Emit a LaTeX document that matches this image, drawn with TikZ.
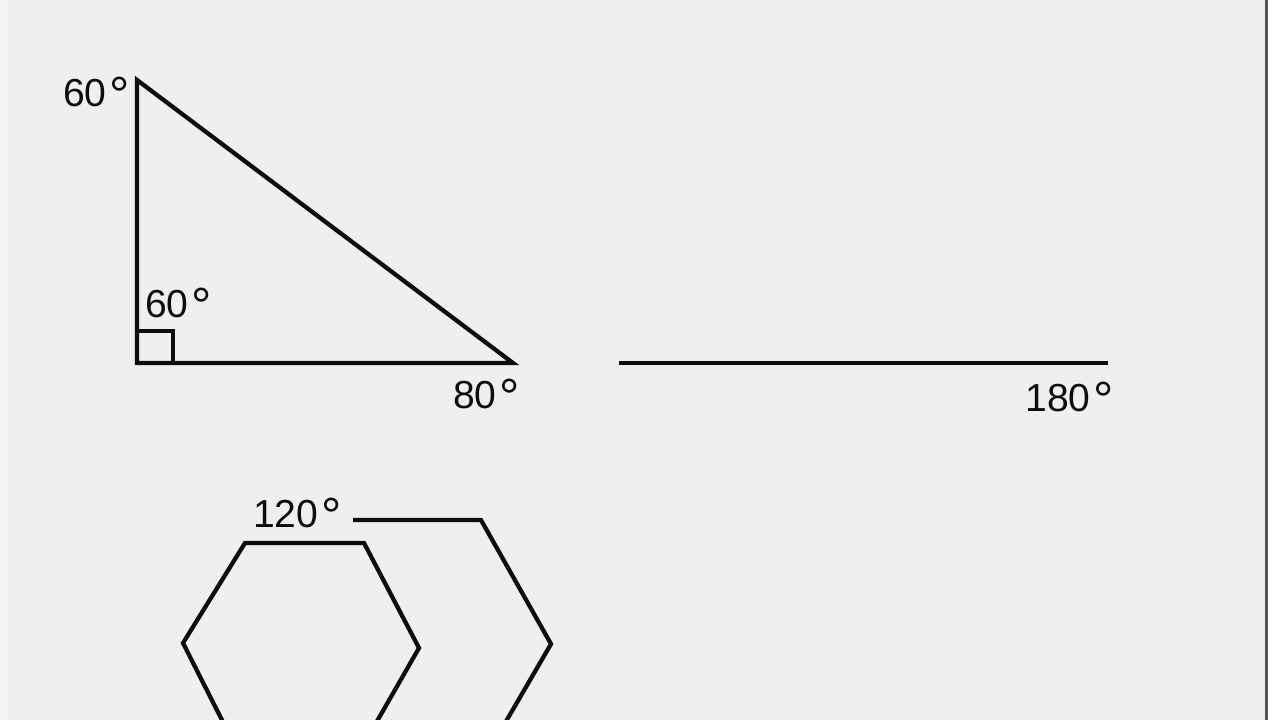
\documentclass[tikz,border=0pt]{standalone}
\usepackage{fontspec}
\usepackage{graphicx}
\setmainfont{Liberation Sans}
\definecolor{bgc}{HTML}{EFEFEF}
\definecolor{stripc}{HTML}{F3F3F3}
\definecolor{edgec}{HTML}{555555}
\definecolor{inkc}{HTML}{0D0D0D}
\newcommand{\dg}{\kern2pt\raisebox{-4.5pt}{\scalebox{1.3}{°}}}
\tikzset{
  shape line/.style={draw=inkc, line width=3.2pt, line join=miter, line cap=butt},
  angle label/.style={inner sep=0pt, anchor=base west, text=inkc, font=\fontsize{29.3}{30}\selectfont}
}
\begin{document}
\begin{tikzpicture}[x=0.75pt, y=-0.75pt]
  \useasboundingbox (0,0) rectangle (1280,720);
  % background
  \fill[bgc] (0,0) rectangle (1280,720);
  \fill[stripc] (0,0) rectangle (8,720);
  \fill[white] (1268,0) rectangle (1280,720);
  \fill[edgec] (1264.5,0) rectangle (1267.5,720);
  \clip (0,0) rectangle (1280,720);
  % triangle
  \draw[shape line] (137,80) -- (137,363) -- (513,363) -- cycle;
  \draw[shape line] (137,331) -- (173,331) -- (173,363);
  \node[angle label] (a1) at (63,107) {60\dg};
  \node[angle label] (a2) at (145,317) {60\dg};
  \node[angle label] (a3) at (453,408) {80\dg};
  % straight line
  \draw[shape line] (619,363) -- (1108,363);
  \node[angle label] (a4) at (1025,411) {180\dg};
  % hexagons
  \draw[shape line] (227,730) -- (183,643) -- (245,543) -- (364,543) -- (419,648) -- (372,730);
  \draw[shape line] (353,520) -- (481,520) -- (551,644) -- (501,730);
  \node[angle label] (a5) at (253,527) {120\dg};
\end{tikzpicture}
\end{document}
